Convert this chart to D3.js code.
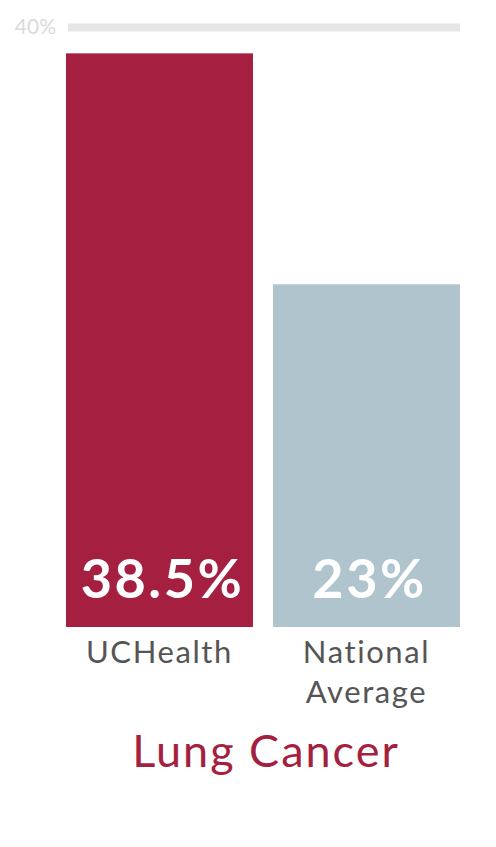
<!DOCTYPE html>
<html>
<head>
    <meta charset="utf-8">
    <title>Lung Cancer</title>
    <style>
      body { margin: 0; background: #fff; }
      text { font-family: Lato, "Open Sans", sans-serif; }
    </style>
</head>
<body>
<div id='plot'></div>
<script src="https://cdn.jsdelivr.net/npm/d3@7"></script>
<script>

    // data
    let categories = ['UCHealth', 'National Average'];
    let labelLines = [['UCHealth'], ['National', 'Average']];
    let values = [38.5, 23];
    let valueLabels = ['38.5%', '23%'];
    let tickValues = [40];
    let title = 'Lung Cancer';

    let svgWidth = 496;
    let svgHeight = 847;

    let svg = d3.select('#plot')
      .append('svg')
        .attr('width', svgWidth)
        .attr('height', svgHeight);

    let x = d3.scaleBand()
      .domain(categories)
      .range([66, 460])
      .paddingInner(0.097)
      .paddingOuter(0);

    let y = d3.scaleLinear()
      .domain([0, 40])
      .range([627, 31]);

    let color = d3.scaleOrdinal()
      .domain(categories)
      .range(['#a51f40', '#b0c4cd']);

    // 40% gridline, drawn as a wide tick line
    let yAxis = d3.axisLeft(y)
      .tickValues(tickValues)
      .tickSize(0)
      .tickPadding(12)
      .tickFormat(d => d + '%');

    let ag = svg.append('g')
      .attr('transform', 'translate(68,-4)')
      .call(yAxis);
    ag.select('.domain').remove();
    ag.selectAll('.tick line')
      .attr('x2', 392)
      .attr('stroke', '#e6e6e6')
      .attr('stroke-width', 8);
    ag.selectAll('.tick text')
      .attr('fill', '#dadada')
      .style('font-size', '21px')
      .style('font-family', 'Lato, sans-serif');

    svg.selectAll('rect.bar')
      .data(values)
      .enter()
        .append('rect')
        .attr('class', 'bar')
        .attr('x', (d, i) => x(categories[i]))
        .attr('y', d => y(d))
        .attr('width', x.bandwidth())
        .attr('height', d => y(0) - y(d))
        .attr('fill', (d, i) => color(categories[i]));

    svg.selectAll('text.value')
      .data(valueLabels)
      .enter()
        .append('text')
        .attr('class', 'value')
        .attr('x', (d, i) => x(categories[i]) + x.bandwidth() / 2 + 3)
        .attr('y', y(0) - 29)
        .attr('text-anchor', 'middle')
        .attr('fill', '#fff')
        .style('font-size', '54px')
        .style('font-weight', 'bold')
        .style('letter-spacing', '2.5px')
        .text(d => d);

    let cats = svg.selectAll('text.cat')
      .data(labelLines)
      .enter()
        .append('text')
        .attr('class', 'cat')
        .attr('x', (d, i) => x(categories[i]) + x.bandwidth() / 2)
        .attr('y', y(0) + 36)
        .attr('text-anchor', 'middle')
        .attr('fill', '#555')
        .style('font-size', '31px')
        .style('letter-spacing', '1.6px');

    cats.selectAll('tspan')
      .data(d => d)
      .enter()
        .append('tspan')
        .attr('x', function() { return d3.select(this.parentNode).attr('x'); })
        .attr('dy', (d, i) => i ? 40 : 0)
        .text(d => d);

    svg.append('text')
      .attr('x', 266)
      .attr('y', 767)
      .attr('text-anchor', 'middle')
      .attr('fill', '#a51f40')
      .style('font-size', '45px')
      .style('letter-spacing', '2px')
      .text(title);

</script>
</body>
</html>
